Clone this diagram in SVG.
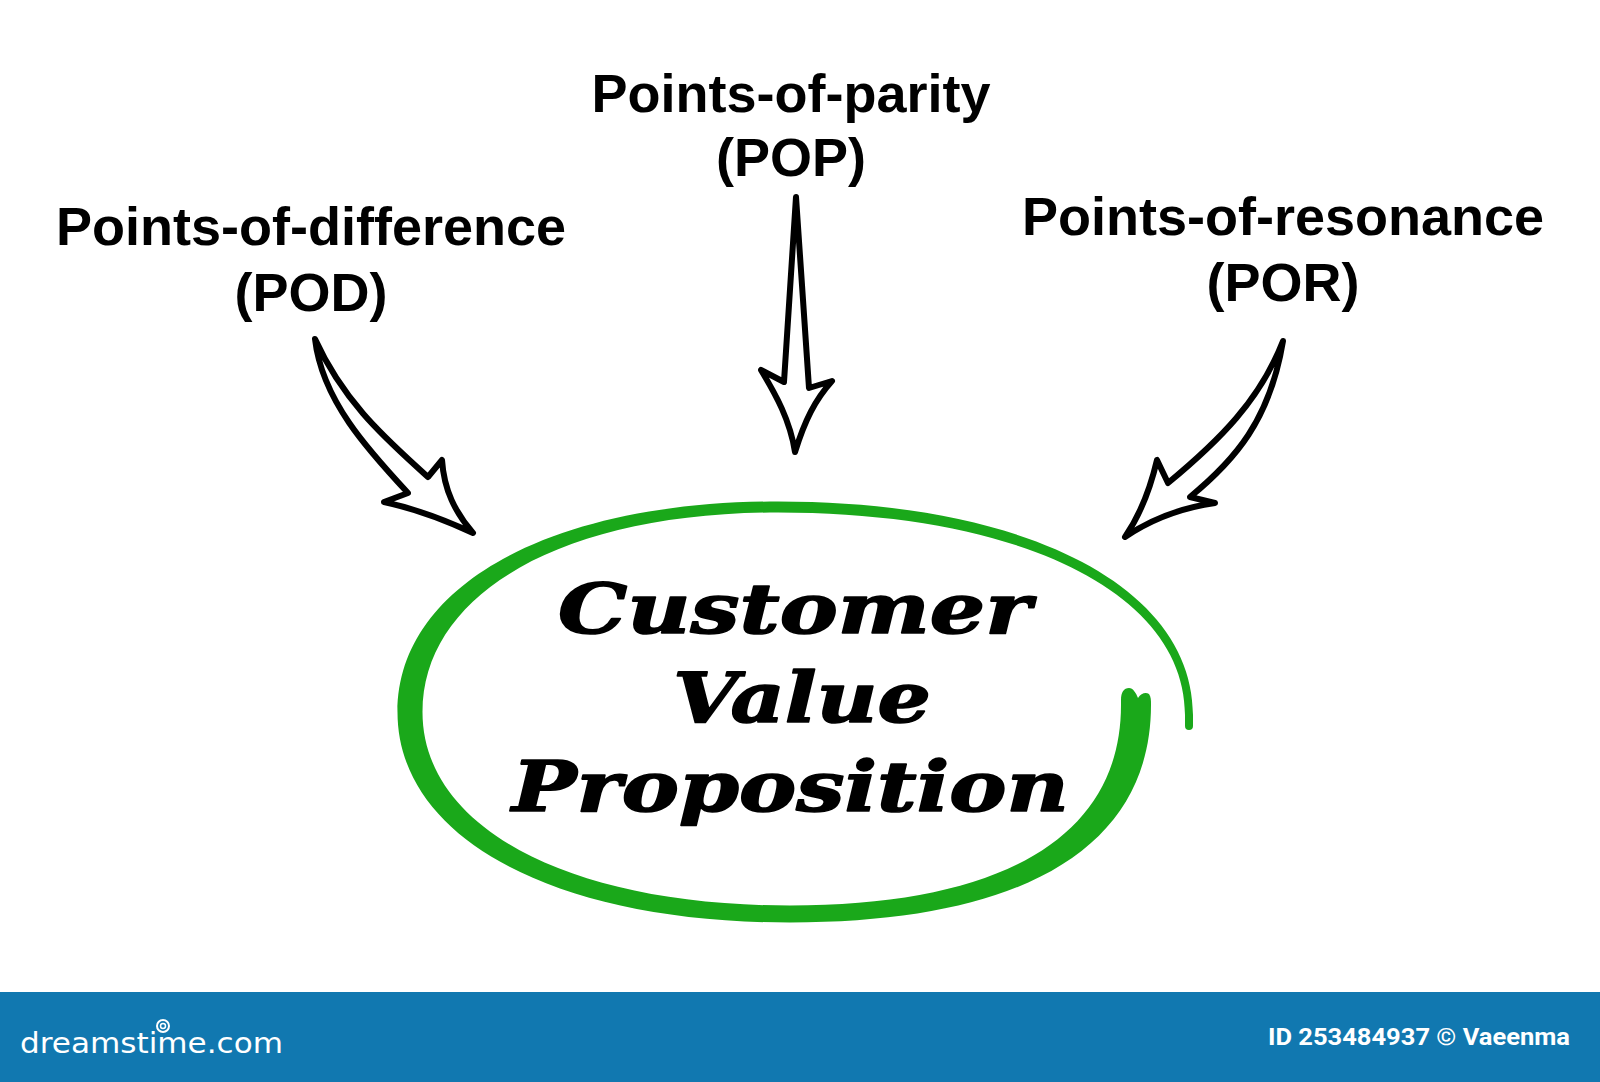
<svg xmlns="http://www.w3.org/2000/svg" width="1600" height="1082" viewBox="0 0 1600 1082">
<style>
.lbl{font-family:"Liberation Sans",Arial,sans-serif;font-weight:bold;font-size:54px;fill:#000;text-anchor:middle}
.title{font-family:"DejaVu Serif","Liberation Serif",serif;font-weight:bold;font-style:italic;font-size:70px;fill:#000;stroke:#000;stroke-width:1.6;stroke-linejoin:round}
.arrow{fill:#fff;stroke:#000;stroke-width:6;stroke-linejoin:round;stroke-linecap:round}
.ring{fill:#1aa81a}
.foot{fill:#fff}
</style>
<rect width="1600" height="1082" fill="#fff"/>
<g id="node-pop">
<text class="lbl" x="791" y="112">Points-of-parity</text>
<text class="lbl" x="791" y="176">(POP)</text>
</g>
<g id="node-pod">
<text class="lbl" x="311" y="245">Points-of-difference</text>
<text class="lbl" x="311" y="311">(POD)</text>
</g>
<g id="node-por">
<text class="lbl" x="1283" y="235">Points-of-resonance</text>
<text class="lbl" x="1283" y="301">(POR)</text>
</g>
<g id="node-cvp">
<path class="ring" d="M1151,705 C1151,846.4 1024.7,922.5 790,922.5 C554.5,922.5 397.5,838.3 397.5,712 C397.5,585.7 549.7,501.5 778,501.5 C1027,501.5 1193,586.9 1193,715 L1193,726 A4,4 0 0 1 1185,726 L1185,715 C1185,593.5 1022.2,512.5 778,512.5 C564.7,512.5 422.5,592.3 422.5,712 C422.5,828.1 569.5,905.5 790,905.5 C1005.2,905.5 1121,835.3 1121,705 L1121,700 C1121,692 1124,688 1129,688 C1133,688 1136,693 1138,698 C1141,693 1146,692 1149,694 C1151,697 1151,700 1151,705 Z"/>
<text class="title" x="558" y="633" textLength="473" lengthAdjust="spacingAndGlyphs">Customer</text>
<text class="title" x="673" y="722" textLength="258" lengthAdjust="spacingAndGlyphs">Value</text>
<text class="title" x="512" y="811" textLength="557" lengthAdjust="spacingAndGlyphs">Proposition</text>
</g>
<g id="connectors">
<path class="arrow" d="M315,339 C345,405 390,442 428,477 L442,460 C444,490 455,512 473,533 C445,520 412,508 384,502 L408,493 C368,450 322,400 315,339 Z"/>
<path class="arrow" d="M796,197 L784,382 L761,370 C776,395 790,420 795,452 C805,420 815,400 832,381 L809,388 Z"/>
<path class="arrow" d="M1283,341 C1260,400 1220,440 1168,483 L1157,460 C1150,490 1140,515 1125,537 C1150,520 1180,508 1215,503 L1190,497 C1235,460 1270,420 1283,341 Z"/>
</g>
<g id="footer">
<rect x="0" y="992" width="1600" height="90" fill="#1178b0"/>
<circle cx="163" cy="1026" r="6" fill="none" stroke="#fff" stroke-width="2"/>
<circle cx="163" cy="1026" r="2.5" fill="none" stroke="#fff" stroke-width="1.5"/>
<text class="foot" x="20" y="1053" font-family="DejaVu Sans, sans-serif" font-size="28" textLength="263" lengthAdjust="spacingAndGlyphs">dreamstime.com</text>
<text class="foot" x="1268" y="1045" font-family="Roboto, 'Liberation Sans', sans-serif" font-size="24" font-weight="bold" textLength="302" lengthAdjust="spacingAndGlyphs">ID 253484937 © Vaeenma</text>
</g>
</svg>
